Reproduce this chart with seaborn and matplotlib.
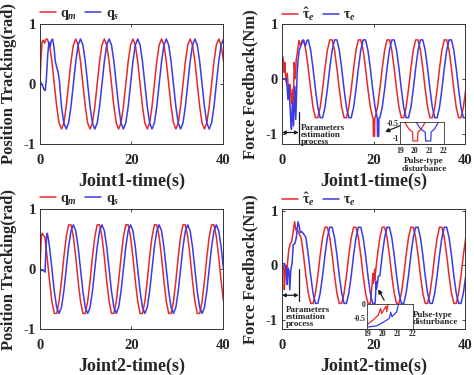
"""
Position tracking and force feedback of joint 1 / joint 2 (2x2 panels with zoomed insets)
"""

import numpy as np
import pandas as pd
import matplotlib
matplotlib.use("Agg")
import matplotlib.pyplot as plt
import seaborn as sns

# time grid of the steady oscillation part of every trace (s)
t_grid = np.round(np.arange(78) * 0.521, 3)

# ---------------- Joint 1, position tracking ----------------
qm1_head_t = [0, 0.2, 0.45, 0.7, 1.0, 1.25]
qm1_head_v = [0, 0.4, 0.7, 0.73, 0.68, 0.74]
qm1_k0 = 3
qm1_v = [0.75, 0.65, 0.375, 0, -0.375, -0.65, -0.75, -0.65, -0.375, 0, 0.375, 0.65,
         0.75, 0.65, 0.375, 0, -0.375, -0.65, -0.75, -0.65, -0.375, 0, 0.375, 0.65,
         0.75, 0.65, 0.375, 0, -0.375, -0.65, -0.75, -0.65, -0.375, 0, 0.375, 0.65,
         0.75, 0.65, 0.375, 0, -0.375, -0.65, -0.75, -0.65, -0.375, 0, 0.375, 0.65,
         0.75, 0.65, 0.375, 0, -0.375, -0.65, -0.75, -0.65, -0.375, 0, 0.375, 0.65,
         0.75, 0.65, 0.375, 0, -0.375, -0.65, -0.75, -0.65, -0.375, 0, 0.375, 0.65,
         0.75, 0.65, 0.375]

qs1_head_t = [0, 0.3, 0.6, 0.9, 1.15, 1.4, 1.7, 1.95, 2.2, 2.45, 2.75, 3.05, 3.35, 3.65, 3.95, 4.25]
qs1_head_v = [0.04, 0.01, -0.04, -0.09, -0.11, 0.1, 0.5, 0.7, 0.62, 0.72, 0.75, 0.62, 0.38, 0.28, 0.2, 0.05]
qs1_k0 = 9
qs1_v = [-0.375, -0.65, -0.75, -0.65, -0.375, 0, 0.375, 0.65, 0.75, 0.65, 0.375, 0,
         -0.375, -0.65, -0.75, -0.65, -0.375, 0, 0.375, 0.65, 0.75, 0.65, 0.375, 0,
         -0.375, -0.65, -0.75, -0.65, -0.375, 0, 0.375, 0.65, 0.75, 0.65, 0.375, 0,
         -0.375, -0.65, -0.75, -0.65, -0.375, 0, 0.375, 0.65, 0.75, 0.65, 0.375, 0,
         -0.375, -0.65, -0.75, -0.65, -0.375, 0, 0.375, 0.65, 0.75, 0.65, 0.375, 0,
         -0.375, -0.65, -0.75, -0.65, -0.375, 0, 0.375, 0.65, 0.75]

# ---------------- Joint 1, force feedback ----------------
te_hat1_head_t = [0, 0.22, 0.44, 0.6, 0.87, 1.15, 1.45, 1.75, 2.05, 2.3, 2.45, 2.65, 2.9, 3.1, 3.4, 3.7, 4.05, 4.4]
te_hat1_head_v = [0.2, 0.4, 0.12, 0.3, -0.05, 0.1, -0.25, -0.1, -0.45, -0.2, -0.5, 0.3, 0.0, 0.35, 0.5, 0.7, 0.6, 0.7]
te_hat1_k0 = 9
te_hat1_v = [0.71, 0.52, 0.19, -0.19, -0.52, -0.71, -0.71, -0.52, -0.19, 0.19, 0.52, 0.71,
             0.71, 0.52, 0.19, -0.19, -0.52, -0.71, -0.71, -0.52, -0.19, 0.19, 0.52, 0.71,
             0.71, 0.52, 0.19, -0.19, -0.52, -0.71, -0.71, -0.52, -0.19, 0.19, 0.52, 0.71,
             0.71, 0.52, 0.19, -0.19, -0.52, -0.71, -0.71, -0.52, -0.19, 0.19, 0.52, 0.71,
             0.71, 0.52, 0.19, -0.19, -0.52, -0.71, -0.71, -0.52, -0.19, 0.19, 0.52, 0.71,
             0.71, 0.52, 0.19, -0.19, -0.52, -0.71, -0.71, -0.52, -0.19]
te_hat1_pulse_t = [19.9, 19.95, 20.2, 20.25]
te_hat1_pulse_v = [-0.72, -1.05, -1.05, -0.72]

te1_head_t = [0, 0.5, 0.9, 1.1, 1.3, 1.5, 1.75, 1.9, 2.05, 2.25, 2.5, 2.8, 3.0, 3.3, 3.5, 3.75, 4.25, 4.7, 5.1, 5.45]
te1_head_v = [0, 0, 0, -0.14, -0.38, -0.11, -0.5, -0.74, -0.92, -0.44, -0.86, -0.14, -0.74, 0.1, 0.34, 0.52, 0.64, 0.7, 0.6, 0.7]
te1_k0 = 11
te1_v = [0.71, 0.52, 0.19, -0.19, -0.52, -0.71, -0.71, -0.52, -0.19, 0.19, 0.52, 0.71,
         0.71, 0.52, 0.19, -0.19, -0.52, -0.71, -0.71, -0.52, -0.19, 0.19, 0.52, 0.71,
         0.71, 0.52, 0.19, -0.19, -0.52, -0.71, -0.71, -0.52, -0.19, 0.19, 0.52, 0.71,
         0.71, 0.52, 0.19, -0.19, -0.52, -0.71, -0.71, -0.52, -0.19, 0.19, 0.52, 0.71,
         0.71, 0.52, 0.19, -0.19, -0.52, -0.71, -0.71, -0.52, -0.19, 0.19, 0.52, 0.71,
         0.71, 0.52, 0.19, -0.19, -0.52, -0.71, -0.71]
te1_pulse_t = [20.8, 20.85, 21.1, 21.15]
te1_pulse_v = [-0.72, -1.05, -1.05, -0.72]

# zoomed inset of the pulse (joint 1)
ins1_red_t = [19.2, 19.34, 19.6, 19.86, 19.88, 20.2, 20.22, 20.45, 20.7, 20.85]
ins1_red_v = [-0.35, -0.5, -0.7, -0.8, -1.08, -1.08, -0.8, -0.7, -0.5, -0.35]
ins1_blue_t = [19.95, 20.13, 20.4, 20.72, 20.75, 21.1, 21.12, 21.35, 21.6, 21.75]
ins1_blue_v = [-0.35, -0.5, -0.7, -0.8, -1.08, -1.08, -0.8, -0.7, -0.5, -0.35]

# ---------------- Joint 2, position tracking ----------------
qm2_head_t = [0, 0.15, 0.3, 0.5, 0.7]
qm2_head_v = [0, 0.3, 0.55, 0.6, 0.57]
qm2_k0 = 2
qm2_v = [0.54, 0.2, -0.2, -0.54, -0.74, -0.74, -0.54, -0.2, 0.2, 0.54, 0.74, 0.74,
         0.54, 0.2, -0.2, -0.54, -0.74, -0.74, -0.54, -0.2, 0.2, 0.54, 0.74, 0.74,
         0.54, 0.2, -0.2, -0.54, -0.74, -0.74, -0.54, -0.2, 0.2, 0.54, 0.74, 0.74,
         0.54, 0.2, -0.2, -0.54, -0.74, -0.74, -0.54, -0.2, 0.2, 0.54, 0.74, 0.74,
         0.54, 0.2, -0.2, -0.54, -0.74, -0.74, -0.54, -0.2, 0.2, 0.54, 0.74, 0.74,
         0.54, 0.2, -0.2, -0.54, -0.74, -0.74, -0.54, -0.2, 0.2, 0.54, 0.74, 0.74,
         0.54, 0.2, -0.2, -0.54]

qs2_head_t = [0, 0.5, 0.9, 1.1, 1.3, 1.45, 1.6, 1.8]
qs2_head_v = [-0.02, -0.02, -0.03, -0.05, 0.3, 0.55, 0.6, 0.52]
qs2_k0 = 4
qs2_v = [0.37, 0, -0.37, -0.64, -0.74, -0.64, -0.37, 0, 0.37, 0.64, 0.74, 0.64,
         0.37, 0, -0.37, -0.64, -0.74, -0.64, -0.37, 0, 0.37, 0.64, 0.74, 0.64,
         0.37, 0, -0.37, -0.64, -0.74, -0.64, -0.37, 0, 0.37, 0.64, 0.74, 0.64,
         0.37, 0, -0.37, -0.64, -0.74, -0.64, -0.37, 0, 0.37, 0.64, 0.74, 0.64,
         0.37, 0, -0.37, -0.64, -0.74, -0.64, -0.37, 0, 0.37, 0.64, 0.74, 0.64,
         0.37, 0, -0.37, -0.64, -0.74, -0.64, -0.37, 0, 0.37, 0.64, 0.74, 0.64,
         0.37, 0]

# ---------------- Joint 2, force feedback ----------------
te_hat2_head_t = [0, 0.3, 0.4, 0.5, 0.7, 0.9, 1.05, 1.2, 1.5, 1.8, 2.1, 2.4, 2.75, 3.0, 3.25, 3.6]
te_hat2_head_v = [0, 0, -0.1, -0.45, -0.05, 0.0, -0.35, 0.05, 0.3, 0.4, 0.43, 0.6, 0.8, 0.65, 0.68, 0.6]
te_hat2_k0 = 8
te_hat2_v = [0.51, 0.19, -0.19, -0.51, -0.7, -0.7, -0.51, -0.19, 0.19, 0.51, 0.7, 0.7,
             0.51, 0.19, -0.19, -0.51, -0.7, -0.7, -0.51, -0.19, 0.19, 0.51, 0.7, 0.7,
             0.51, 0.19, -0.19, -0.51, -0.7, -0.7, -0.51, -0.19, 0.19, 0.51, 0.7, 0.7,
             0.51, 0.19, -0.19, -0.51, -0.7, -0.7, -0.51, -0.19, 0.19, 0.51, 0.7, 0.7,
             0.51, 0.19, -0.19, -0.51, -0.7, -0.7, -0.51, -0.19, 0.19, 0.51, 0.7, 0.7,
             0.51, 0.19, -0.19, -0.51, -0.7, -0.7, -0.51, -0.19, 0.19, 0.51]
te_hat2_pulse_t = [19.6, 19.88, 19.95, 20.24, 20.28]
te_hat2_pulse_v = [-0.42, -0.15, -0.33, -0.07, -0.27]

te2_head_t = [0, 0.55, 0.75, 0.95, 1.1, 1.3, 1.5, 1.7, 1.9, 2.2, 2.45, 2.8, 3.1, 3.5, 3.75, 4.0, 4.3, 4.7]
te2_head_v = [0.03, 0.03, -0.03, -0.1, -0.35, -0.05, -0.1, -0.45, -0.1, 0.05, 0.38, 0.4, 0.5, 0.8, 0.72, 0.6, 0.62, 0.58]
te2_k0 = 10
te2_v = [0.51, 0.19, -0.19, -0.51, -0.7, -0.7, -0.51, -0.19, 0.19, 0.51, 0.7, 0.7,
         0.51, 0.19, -0.19, -0.51, -0.7, -0.7, -0.51, -0.19, 0.19, 0.51, 0.7, 0.7,
         0.51, 0.19, -0.19, -0.51, -0.7, -0.7, -0.51, -0.19, 0.19, 0.51, 0.7, 0.7,
         0.51, 0.19, -0.19, -0.51, -0.7, -0.7, -0.51, -0.19, 0.19, 0.51, 0.7, 0.7,
         0.51, 0.19, -0.19, -0.51, -0.7, -0.7, -0.51, -0.19, 0.19, 0.51, 0.7, 0.7,
         0.51, 0.19, -0.19, -0.51, -0.7, -0.7, -0.51, -0.19]
te2_pulse_t = [20.45, 20.55, 20.63, 20.94, 21.0]
te2_pulse_v = [-0.5, -0.29, -0.44, -0.27, -0.2]

# zoomed inset of the pulse (joint 2)
ins2_red_t = [19.0, 19.07, 19.4, 19.73, 19.88, 19.95, 20.24, 20.28, 20.4]
ins2_red_v = [-0.72, -0.68, -0.55, -0.38, -0.15, -0.33, -0.07, -0.27, 0.05]
ins2_blue_t = [19.0, 19.13, 19.62, 20.0, 20.45, 20.55, 20.63, 20.94, 21.05, 21.2]
ins2_blue_v = [-0.8, -0.79, -0.76, -0.65, -0.5, -0.29, -0.44, -0.27, -0.03, 0.1]

RED = "#e52a2a"
BLUE = "#3a3ae6"


def build(head_t, head_v, k0, steady_v, pulse_t=(), pulse_v=()):
    assert len(steady_v) == len(t_grid) - k0
    t = list(head_t) + list(t_grid[k0:])
    v = list(head_v) + list(steady_v)
    df = pd.DataFrame({"t": t, "v": v})
    if len(pulse_t):
        df = df[(df.t < pulse_t[0]) | (df.t > pulse_t[-1])]
        df = pd.concat([df, pd.DataFrame({"t": pulse_t, "v": pulse_v})])
    return df.sort_values("t").reset_index(drop=True)


sns.set_theme(style="ticks")
plt.rcParams["font.family"] = ["Liberation Serif", "DejaVu Serif"]
plt.rcParams["font.weight"] = "bold"
plt.rcParams["axes.unicode_minus"] = False
plt.rcParams["mathtext.fontset"] = "custom"
plt.rcParams["mathtext.rm"] = "Liberation Serif:bold"
plt.rcParams["mathtext.it"] = "Liberation Serif:italic:bold"
plt.rcParams["mathtext.bf"] = "Liberation Serif:bold"

fig = plt.figure(figsize=(4.74, 3.75), dpi=100)
ax1 = fig.add_axes([0.0844, 0.616, 0.386, 0.32])
ax2 = fig.add_axes([0.595, 0.616, 0.3865, 0.32])
ax3 = fig.add_axes([0.0844, 0.1227, 0.386, 0.3192])
ax4 = fig.add_axes([0.595, 0.1227, 0.3865, 0.3192])

panels = [
    (ax1, build(qm1_head_t, qm1_head_v, qm1_k0, qm1_v),
     build(qs1_head_t, qs1_head_v, qs1_k0, qs1_v),
     r"$\mathrm{q}_{m}$", r"$\mathrm{q}_{s}$", "Position Tracking(rad)", "Joint1-time(s)", (-1, 1)),
    (ax2, build(te_hat1_head_t, te_hat1_head_v, te_hat1_k0, te_hat1_v, te_hat1_pulse_t, te_hat1_pulse_v),
     build(te1_head_t, te1_head_v, te1_k0, te1_v, te1_pulse_t, te1_pulse_v),
     r"$\hat{\mathrm{\tau}}_{e}$", r"$\mathrm{\tau}_{e}$", "Force Feedback(Nm)", "Joint1-time(s)", (-1.19, 1)),
    (ax3, build(qm2_head_t, qm2_head_v, qm2_k0, qm2_v),
     build(qs2_head_t, qs2_head_v, qs2_k0, qs2_v),
     r"$\mathrm{q}_{m}$", r"$\mathrm{q}_{s}$", "Position Tracking(rad)", "Joint2-time(s)", (-1, 1)),
    (ax4, build(te_hat2_head_t, te_hat2_head_v, te_hat2_k0, te_hat2_v, te_hat2_pulse_t, te_hat2_pulse_v),
     build(te2_head_t, te2_head_v, te2_k0, te2_v, te2_pulse_t, te2_pulse_v),
     r"$\hat{\mathrm{\tau}}_{e}$", r"$\mathrm{\tau}_{e}$", "Force Feedback(Nm)", "Joint2-time(s)", (-1.17, 1.03)),
]

for ax, d_red, d_blue, lab_red, lab_blue, ylab, xlab, ylim in panels:
    sns.lineplot(data=d_red, x="t", y="v", ax=ax, color=RED, lw=1.1,
                 estimator=None, sort=False, label=lab_red)
    sns.lineplot(data=d_blue, x="t", y="v", ax=ax, color=BLUE, lw=1.1,
                 estimator=None, sort=False, label=lab_blue)
    ax.set_xlim(0, 40)
    ax.set_ylim(*ylim)
    ax.set_xticks([0, 20, 40])
    ax.set_yticks([-1, 0, 1])
    ax.tick_params(direction="in", length=2.5, width=0.6, top=True, right=True,
                   labelsize=10.5)
    ax.tick_params(axis="x", pad=7)
    ax.tick_params(axis="y", pad=3)
    for s in ax.spines.values():
        s.set_linewidth(0.7)
        s.set_color("#333333")
    ax.set_xlabel(xlab, fontsize=13, fontweight="bold")
    ax.set_ylabel(ylab, fontsize=12, fontweight="bold")
    ax.xaxis.set_label_coords(0.5, -0.24)
    ax.xaxis.label.set_va("top")
    ax.yaxis.set_label_coords(-0.128, 0.5)
    ax.legend(loc="center left", bbox_to_anchor=(0.0, 1.083), ncol=2, frameon=False,
              fontsize=10, handlelength=1.15, handletextpad=0.3, columnspacing=0.6,
              borderpad=0.0, borderaxespad=0.0)

note = dict(fontsize=6.5, fontweight="bold", linespacing=0.85)
arr2 = dict(arrowstyle="<|-|>", lw=0.9, color="k", mutation_scale=5, shrinkA=0, shrinkB=0)
arr1 = dict(arrowstyle="-|>", lw=0.9, color="k", mutation_scale=6, shrinkA=0, shrinkB=0)

# joint 1 annotations
ax2.annotate("", xy=(0, -0.98), xytext=(3.65, -0.98), arrowprops=arr2)
ax2.plot([3.65, 3.65], [-0.6, -1.19], color="k", lw=0.9)
ax2.text(4.1, -0.83, "Parameters\nestimation\nprocess", ha="left", va="top", **note)
ax2.annotate("", xy=(22.5, -0.97), xytext=(25.8, -0.855), arrowprops=arr1)
fig.text(424 / 474, 1 - 157.5 / 375, "Pulse-type\ndisturbance", ha="center", va="top", **note)

# joint 2 annotations
ax4.annotate("", xy=(0, -0.55), xytext=(3.65, -0.55), arrowprops=arr2)
ax4.plot([3.65, 3.65], [-0.06, -0.65], color="k", lw=0.9)
ax4.text(0.9, -0.74, "Parameters\nestimation\nprocess", ha="left", va="top", **note)
ax4.annotate("", xy=(21.0, -0.44), xytext=(22.3, -0.64), arrowprops=arr1)
ax4.text(28.6, -0.84, "Pulse-type\ndisturbance", ha="left", va="top", **note)

# insets
in1 = fig.add_axes([0.8439, 0.6173, 0.0928, 0.0565])
in2 = fig.add_axes([0.7749, 0.124, 0.0958, 0.0653])
for ax, rt, rv, bt, bv, ylim, yt, ytl, xpad in [
    (in1, ins1_red_t, ins1_red_v, ins1_blue_t, ins1_blue_v, (-1.16, -0.49), [-1, -0.5], ["-1", "-0.5"], 2.2),
    (in2, ins2_red_t, ins2_red_v, ins2_blue_t, ins2_blue_v, (-0.85, 0), [-0.5, 0], ["-0.5", "0"], 1.2),
]:
    ax.set_facecolor("white")
    sns.lineplot(x=rt, y=rv, ax=ax, color=RED, lw=0.9, estimator=None, sort=False)
    sns.lineplot(x=bt, y=bv, ax=ax, color=BLUE, lw=0.9, estimator=None, sort=False)
    ax.set_xlim(19, 22)
    ax.set_ylim(*ylim)
    ax.set_xticks([19, 20, 21, 22])
    ax.set_yticks(yt)
    ax.set_yticklabels(ytl)
    ax.tick_params(length=0, labelsize=5.5)
    ax.tick_params(axis="x", pad=xpad)
    ax.tick_params(axis="y", pad=1)
    ax.set_xlabel("")
    ax.set_ylabel("")
    for s in ax.spines.values():
        s.set_linewidth(0.6)
        s.set_color("#333333")

fig.savefig("out.png", dpi=100)
